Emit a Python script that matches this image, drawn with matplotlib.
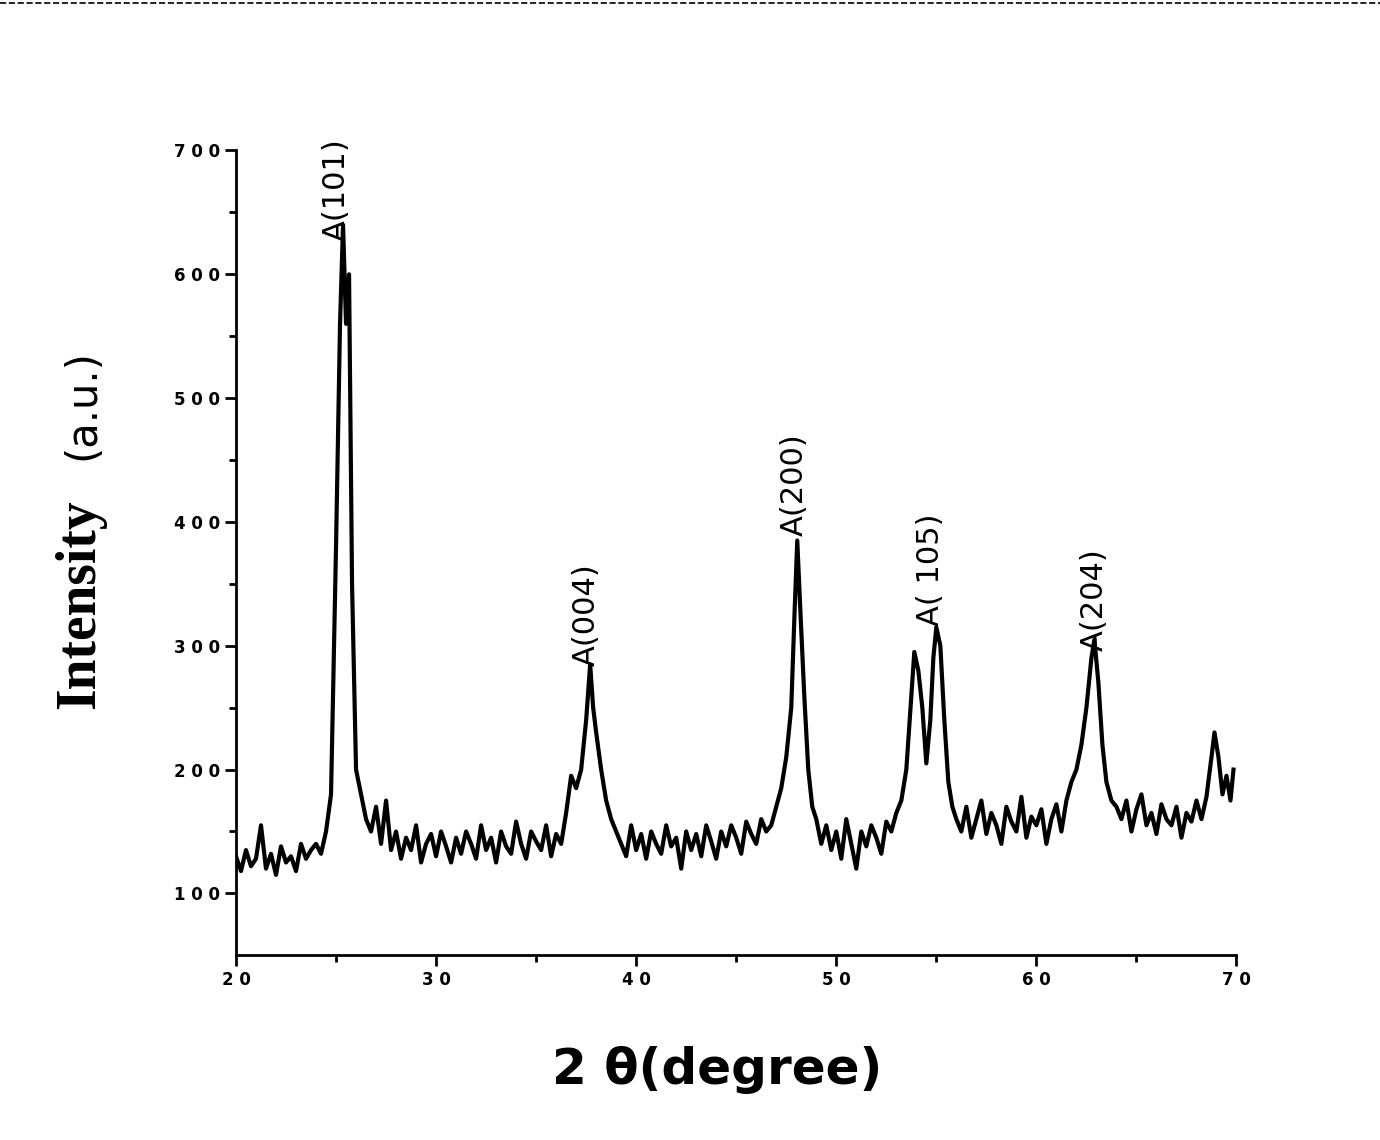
# XRD pattern, anatase peaks

import matplotlib
matplotlib.use('Agg')
import matplotlib.pyplot as plt
import numpy as np

# background/peak readings (2theta, intensity)
bg1_x = np.arange(20.0, 24.5, 0.25)
bg1_y = [130, 118, 135, 122, 128, 155, 120, 132, 115, 138, 125, 130, 118, 140, 128, 135, 140, 132]
p1_x = [24.5, 24.75, 25.0, 25.2, 25.35, 25.5, 25.65, 25.8, 26.0, 26.25, 26.5, 26.75, 27.0, 27.25, 27.5, 27.75]
p1_y = [150, 180, 380, 560, 640, 560, 600, 350, 200, 180, 160, 150, 170, 140, 175, 135]
bg2_x = np.arange(28.0, 36.5, 0.25)
bg2_y = [150, 128, 145, 135, 155, 125, 140, 148, 130, 150, 138, 125, 145, 132, 150, 140, 128,
         155, 135, 145, 125, 150, 138, 132, 158, 140, 128, 150, 142, 135, 155, 130, 148, 140]
p2_x = [36.5, 36.75, 37.0, 37.25, 37.5, 37.7, 37.85, 38.0, 38.25, 38.5, 38.75, 39.0]
p2_y = [165, 195, 185, 200, 240, 285, 250, 230, 200, 175, 160, 150]
bg3_x = np.arange(39.25, 47.0, 0.25)
bg3_y = [140, 130, 155, 135, 148, 128, 150, 140, 132, 155, 138, 145, 120, 150, 135, 148,
         130, 155, 142, 128, 150, 138, 155, 145, 132, 158, 148, 140, 160, 150, 155]
p3_x = [47.0, 47.25, 47.5, 47.75, 47.9, 48.05, 48.2, 48.4, 48.6, 48.8, 49.0, 49.25]
p3_y = [170, 185, 210, 250, 320, 385, 330, 260, 200, 170, 160, 140]
bg4_x = np.arange(49.5, 53.25, 0.25)
bg4_y = [155, 135, 150, 128, 160, 140, 120, 150, 138, 155, 145, 132, 158, 150, 165]
p4_x = [53.25, 53.5, 53.75, 53.9, 54.1, 54.3, 54.5, 54.7, 54.85, 55.0, 55.2, 55.4, 55.6, 55.8, 56.0]
p4_y = [175, 200, 260, 295, 280, 250, 205, 240, 290, 315, 300, 240, 190, 170, 160]
bg5_x = np.arange(56.25, 61.75, 0.25)
bg5_y = [150, 170, 145, 160, 175, 148, 165, 155, 140, 170, 158, 150, 178, 145, 162, 155,
         168, 140, 160, 172, 150, 175]
p5_x = [61.75, 62.0, 62.25, 62.5, 62.75, 62.9, 63.1, 63.3, 63.5, 63.75, 64.0]
p5_y = [190, 200, 220, 250, 290, 305, 270, 220, 190, 175, 170]
bg6_x = np.arange(64.25, 68.75, 0.25)
bg6_y = [160, 175, 150, 168, 180, 155, 165, 148, 172, 160, 155, 170, 145, 165, 158, 175, 160, 178]
p6_x = [68.75, 68.9, 69.1, 69.3, 69.5, 69.7, 69.85]
p6_y = [210, 230, 210, 180, 195, 175, 200]

peak_pos = [25.0, 37.5, 47.9, 54.7, 62.9]
peak_top = [627, 284, 389, 316, 296]
peak_names = ['A(101)', 'A(004)', 'A(200)', 'A( 105)', 'A(204)']

x = np.concatenate([bg1_x, p1_x, bg2_x, p2_x, bg3_x, p3_x, bg4_x, p4_x, bg5_x, p5_x, bg6_x, p6_x])
y = np.concatenate([bg1_y, p1_y, bg2_y, p2_y, bg3_y, p3_y, bg4_y, p4_y, bg5_y, p5_y, bg6_y, p6_y])

fig = plt.figure(figsize=(13.8, 11.4), dpi=100)
ax = fig.add_axes((0.171, 0.162, 0.725, 0.706))
ax.plot(x, y, color='black', lw=3)

for px, py, name in zip(peak_pos, peak_top, peak_names):
    ax.text(px, py, name, rotation=90, ha='center', va='bottom', fontsize=22)

ax.set_xlim(20, 70)
ax.set_ylim(50, 700)
ax.spines['top'].set_visible(False)
ax.spines['right'].set_visible(False)
for s in ('left', 'bottom'):
    ax.spines[s].set_linewidth(2)

ax.set_xticks(np.arange(20, 71, 10))
ax.set_xticklabels([' '.join(str(v)) for v in range(20, 71, 10)], fontsize=12, fontweight='bold')
ax.set_xticks(np.arange(25, 70, 10), minor=True)
ax.set_yticks(np.arange(100, 701, 100))
ax.set_yticklabels([' '.join(str(v)) for v in range(100, 701, 100)], fontsize=12, fontweight='bold')
ax.set_yticks(np.arange(150, 700, 100), minor=True)
ax.tick_params(which='major', length=8, width=2)
ax.tick_params(which='minor', length=5, width=2)

fig.text(0.058, 0.47, 'Intensity', rotation=90, ha='center', va='center',
         fontsize=40, fontweight='bold', family='Liberation Serif')
fig.text(0.06, 0.645, '(a.u.)', rotation=90, ha='center', va='center', fontsize=30)
fig.text(0.52, 0.061, '2 θ(degree)', ha='center', va='center', fontsize=36, fontweight='bold')

fig.add_artist(plt.Line2D([0, 1], [0.997, 0.997], color='black', lw=1.2, ls='--'))

plt.savefig('out.png')
